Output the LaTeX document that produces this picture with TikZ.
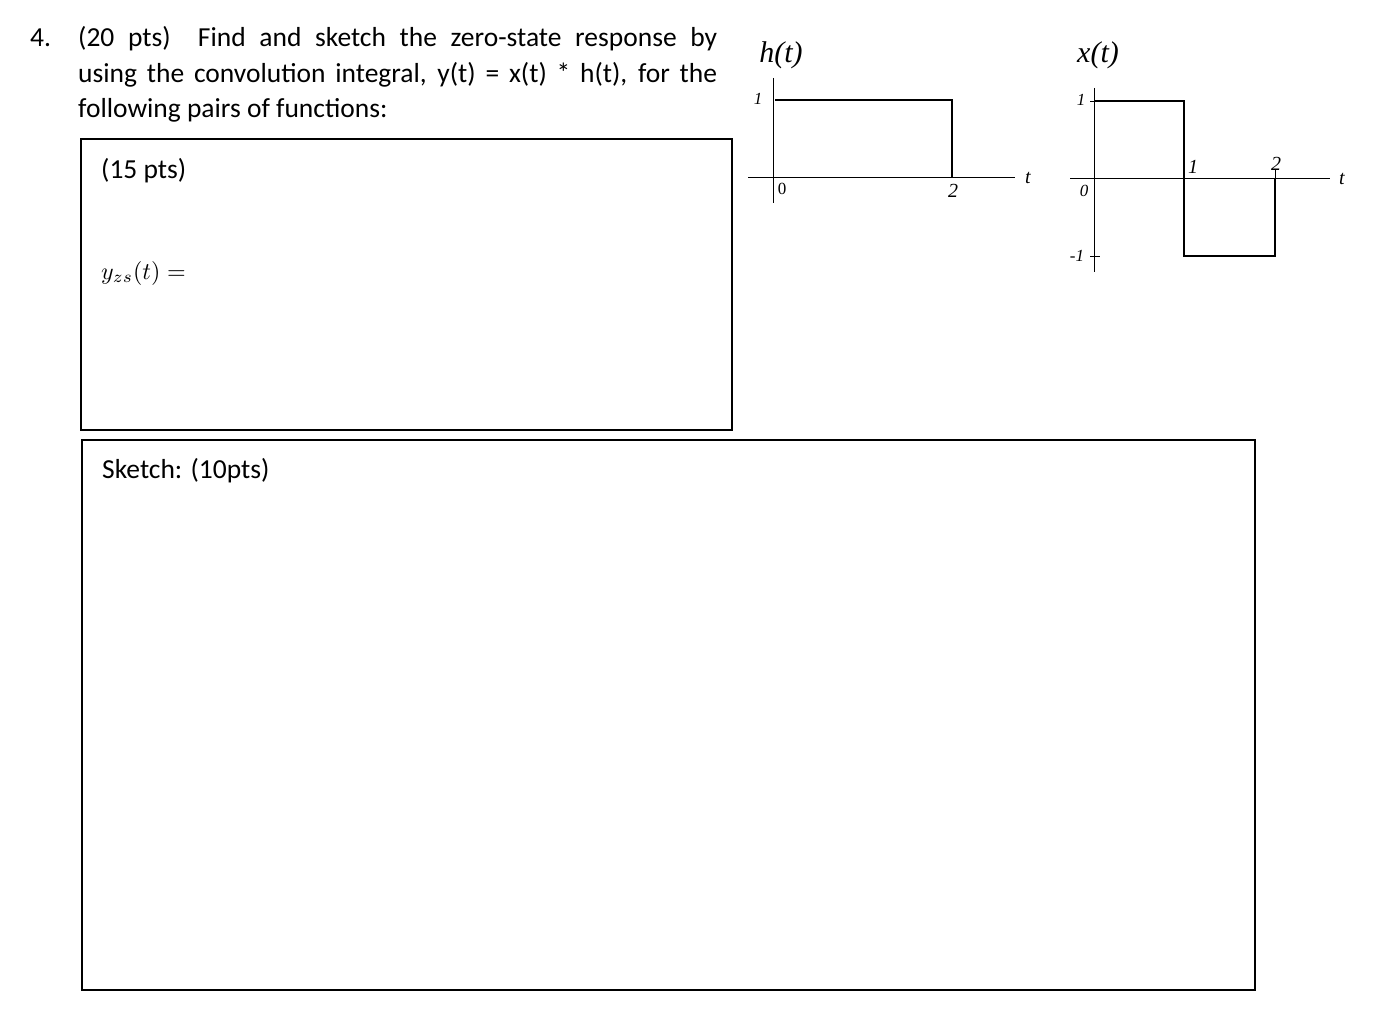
\documentclass[tikz,border=0pt]{standalone}
\usepackage{fontspec}
\usepackage{graphicx}
\setmainfont{Carlito}
\newfontfamily\tnr{Liberation Serif}
\begin{document}
\begin{tikzpicture}[x=1pt,y=-1pt,
  txt/.style={font=\fontsize{27.5}{35.5}\selectfont,inner sep=0pt},
  gl/.style={font=\tnr\itshape\fontsize{17}{17}\selectfont,inner sep=0pt},
  gt/.style={font=\tnr\itshape\fontsize{30}{30}\selectfont,inner sep=0pt},
  ax/.style={line width=0.8pt},
  sig/.style={line width=2.4pt},
  box/.style={line width=1.6pt}]
\useasboundingbox (0,0) rectangle (1394,1014);
\node[txt,anchor=base west] (num) at (30,47) {4.};
\node[txt,anchor=base west,text width=639,align=justify] (q) at (78,47)
 {(20 pts)\ \ Find and sketch the zero-state response by\linebreak using the convolution integral, y(t) = x(t) * h(t), for the\linebreak following pairs of functions:};
\draw[box] (81,139) rectangle (732,430);
\node[txt,anchor=base west] (p15) at (101,178) {(15 pts)};
\node[anchor=west,inner sep=0pt] (yzs) at (101,273) {\scalebox{2.4}{$y_{zs}(t) =$}};
\draw[box] (82,440) rectangle (1255,990);
\node[txt,anchor=base west] (sk) at (102,478) {Sketch: (10pts)};
% h(t)
\draw[ax] (773,78) -- (773,203);
\draw[ax] (748,177) -- (1015,177);
\draw[sig] (775,100) -- (952,100) -- (952,177);
\node[gt] (hl) at (781,55) {h(t)};
\node[gl] at (758,99) {1};
\node[gl,font=\tnr\fontsize{17}{17}\selectfont] at (782,189) {0};
\node[gl,font=\tnr\itshape\fontsize{20}{20}\selectfont] at (953,191) {2};
\node[gl,font=\tnr\itshape\fontsize{20}{20}\selectfont] at (1028,178) {t};
% x(t)
\draw[ax] (1094,88) -- (1094,272);
\draw[ax] (1070,178) -- (1330,178);
\draw[ax] (1090,101) -- (1100,101);
\draw[ax] (1090,256) -- (1100,256);
\draw[ax] (1275,170) -- (1275,178);
\draw[sig] (1094,101) -- (1184,101) -- (1184,256) -- (1275,256) -- (1275,178);
\node[gt] (xl) at (1098,55) {x(t)};
\node[gl] at (1081,100) {1};
\node[gl] at (1084,191) {0};
\node[gl] at (1077,256) {-1};
\node[gl,font=\tnr\itshape\fontsize{20}{20}\selectfont] at (1193,167) {1};
\node[gl,font=\tnr\itshape\fontsize{20}{20}\selectfont] at (1276,164) {2};
\node[gl,font=\tnr\itshape\fontsize{20}{20}\selectfont] at (1342,179) {t};
\end{tikzpicture}
\end{document}
